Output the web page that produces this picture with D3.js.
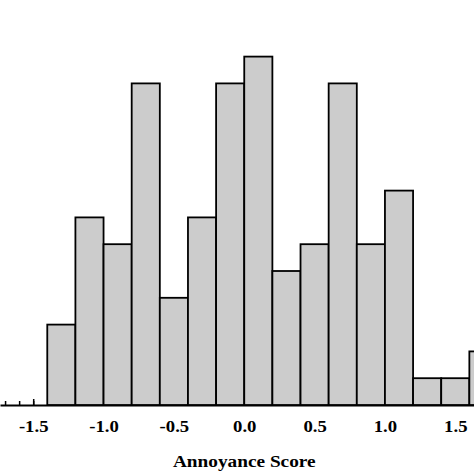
<!DOCTYPE html>
<html>
<head>
<meta charset="utf-8">
<script src="https://cdn.jsdelivr.net/npm/d3@7"></script>
<style>
  body { margin: 0; background: #fff; }
  text { font-family: "Liberation Serif", "Times New Roman", serif; font-weight: bold; }
</style>
</head>
<body>
<script>
// histogram bins (left edge of each 0.2 wide bin) and counts
let binStarts = [-1.4, -1.2, -1.0, -0.8, -0.6, -0.4, -0.2, 0.0, 0.2, 0.4, 0.6, 0.8, 1.0, 1.2, 1.4, 1.6]
let counts = [3, 7, 6, 12, 4, 7, 12, 13, 5, 6, 12, 6, 8, 1, 1, 2]
let binWidth = 0.2

let tickValues = [-1.5, -1.0, -0.5, 0.0, 0.5, 1.0, 1.5]
let tickLabels = ['-1.5', '-1.0', '-0.5', '0.0', '0.5', '1.0', '1.5']
let minorTicks = d3.range(-17, 17).map(d => d / 10)

let w = 474
let h = 474
let baseY = 405
let stretch = 1.17   // the original type is a little wider than it is tall

let svg = d3.select('body').append('svg').attr('width', w).attr('height', h)

// the picture is a crop, so the domain runs past the plot edges
let x = d3.scaleLinear().domain([-1.736, 1.633]).range([0, w])
let y = d3.scaleLinear().domain([0, 13]).range([baseY, 56.6])

// minor ticks
svg.append('g')
  .attr('transform', `translate(0,${baseY})`)
  .call(d3.axisBottom(x).tickValues(minorTicks).tickSizeInner(-4).tickSizeOuter(0).tickFormat(''))
  .call(g => g.select('.domain').remove())
  .selectAll('line').attr('stroke', '#000').attr('stroke-width', 1.5)

// major ticks + labels
let xAxis = svg.append('g')
  .attr('transform', `translate(0,${baseY})`)
  .call(d3.axisBottom(x)
    .tickValues(tickValues)
    .tickSizeInner(-6)
    .tickSizeOuter(0)
    .tickPadding(16)
    .tickFormat((d, i) => tickLabels[i]))

xAxis.select('.domain').attr('stroke', '#000').attr('stroke-width', 1.8)
xAxis.selectAll('line').attr('stroke', '#000').attr('stroke-width', 1.5)
xAxis.selectAll('text')
  .attr('font-size', '16px')
  .attr('fill', '#000')
  .attr('transform', `scale(${stretch},1)`)

// bars
svg.selectAll('rect')
  .data(binStarts)
  .enter()
  .append('rect')
  .attr('x', d => x(d))
  .attr('y', (d, i) => y(counts[i]))
  .attr('width', d => x(d + binWidth) - x(d))
  .attr('height', (d, i) => baseY - y(counts[i]))
  .attr('fill', '#cccccc')
  .attr('stroke', '#000')
  .attr('stroke-width', 1.8)

svg.append('text')
  .attr('transform', `translate(${x(0)},467) scale(${stretch},1)`)
  .attr('text-anchor', 'middle')
  .attr('font-size', '16.5px')
  .text('Annoyance Score')
</script>
</body>
</html>
